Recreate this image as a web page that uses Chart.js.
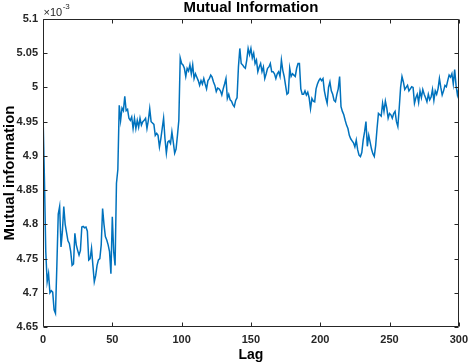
<!DOCTYPE html>
<html>
<head>
<meta charset="utf-8">
<script src="https://cdn.jsdelivr.net/npm/chart.js@4/dist/chart.umd.min.js"></script>
<style>
html,body{margin:0;padding:0;background:#fff;}
#wrap{width:474px;height:364px;position:relative;}
</style>
</head>
<body>
<div id="wrap"><canvas id="c" width="474" height="364"></canvas></div>
<script>
// Mutual information (x 1e-3) for lags 0..300 (index = lag)
const miValues = [
4.962,4.870,4.760,4.716,4.728,4.700,4.703,4.701,4.675,4.670,
4.740,4.815,4.826,4.767,4.790,4.826,4.800,4.788,4.776,4.772,
4.760,4.740,4.742,4.787,4.770,4.762,4.755,4.762,4.796,4.797,
4.795,4.796,4.790,4.748,4.750,4.765,4.740,4.716,4.725,4.740,
4.748,4.750,4.770,4.823,4.800,4.782,4.777,4.770,4.760,4.728,
4.811,4.760,4.740,4.860,4.880,4.974,4.952,4.970,4.966,4.987,
4.966,4.968,4.955,4.952,4.957,4.940,4.955,4.940,4.952,4.942,
4.955,4.945,4.950,4.952,4.955,4.940,4.952,4.969,4.950,4.948,
4.946,4.930,4.933,4.930,4.913,4.925,4.940,4.955,4.925,4.904,
4.920,4.922,4.918,4.935,4.920,4.904,4.910,4.930,4.952,5.043,
5.035,5.033,5.028,5.016,5.028,5.024,5.033,5.020,5.033,5.013,
5.020,5.015,5.010,5.003,5.010,5.005,5.013,5.005,4.998,5.010,
5.013,5.018,5.015,5.008,5.003,4.994,4.999,4.998,4.995,4.989,
4.998,5.005,5.013,4.984,4.990,4.982,4.980,4.975,4.972,4.981,
4.985,5.030,5.057,5.035,5.033,5.030,5.028,5.040,5.057,5.048,
5.057,5.043,5.050,5.035,5.040,5.023,5.030,5.035,5.023,5.030,
5.013,5.020,5.028,5.030,5.035,5.023,5.023,5.020,5.013,5.020,
5.023,5.016,5.040,5.025,5.016,5.003,4.990,4.992,5.028,5.016,
5.020,5.018,5.016,5.028,5.035,5.035,4.998,4.990,4.990,4.995,
4.989,4.993,4.985,4.969,4.984,4.980,4.979,4.998,5.005,5.010,
5.013,5.010,5.013,4.995,4.985,4.977,5.000,5.008,4.995,4.990,
4.981,4.979,4.990,4.998,5.016,4.972,4.965,4.960,4.952,4.945,
4.940,4.930,4.925,4.922,4.919,4.913,4.923,4.909,4.901,4.899,
4.905,4.923,4.935,4.950,4.914,4.930,4.920,4.910,4.903,4.899,
4.915,4.940,4.962,4.960,4.958,4.977,4.965,4.980,4.970,4.955,
4.962,4.960,4.955,4.962,4.965,4.950,4.943,4.970,5.000,5.016,
5.008,4.997,5.000,5.003,4.995,4.998,5.001,5.000,4.977,4.985,
4.990,4.978,4.995,4.985,4.997,4.990,4.985,4.979,4.990,4.982,
4.986,4.997,4.981,4.995,4.990,4.998,5.013,5.000,4.989,4.995,
5.003,5.001,5.010,5.018,5.015,5.020,5.005,5.026,5.003,4.989,
4.998
];
const xTicks = [0, 50, 100, 150, 200, 250, 300];
const yTicks = [4.65, 4.7, 4.75, 4.8, 4.85, 4.9, 4.95, 5, 5.05, 5.1];
const titleText = 'Mutual Information';
const xLabel = 'Lag';
const yLabel = 'Mutual information';
const expText = '\u00D710';
const expPower = '-3';

const points = miValues.map((v, i) => ({x: i, y: v}));
const FONT = "'Liberation Sans', Arial, sans-serif";

const framePlugin = {
  id: 'frame',
  afterDraw(chart) {
    const ctx = chart.ctx;
    const {left, right, top, bottom} = chart.chartArea;
    const xs = chart.scales.x, ys = chart.scales.y;
    ctx.save();
    ctx.strokeStyle = '#262626';
    ctx.lineWidth = 1;
    const L = Math.round(left) + 0.5, R = Math.round(right) - 0.5;
    const T = Math.round(top) + 0.5, B = Math.round(bottom) - 0.5;
    ctx.beginPath();
    ctx.rect(L, T, R - L, B - T);
    ctx.stroke();
    ctx.beginPath();
    xTicks.forEach(v => {
      const px = Math.round(xs.getPixelForValue(v)) + 0.5;
      ctx.moveTo(px, B); ctx.lineTo(px, B - 4);
      ctx.moveTo(px, T); ctx.lineTo(px, T + 4);
    });
    yTicks.forEach(v => {
      const py = Math.round(ys.getPixelForValue(v)) + 0.5;
      ctx.moveTo(L, py); ctx.lineTo(L + 4, py);
      ctx.moveTo(R, py); ctx.lineTo(R - 4, py);
    });
    ctx.stroke();
    // title
    ctx.fillStyle = '#000';
    ctx.font = 'bold 15px ' + FONT;
    ctx.textAlign = 'center';
    ctx.textBaseline = 'alphabetic';
    ctx.fillText(titleText, (left + right) / 2, 12);
    // exponent
    ctx.font = '11px ' + FONT;
    ctx.textAlign = 'left';
    ctx.fillStyle = '#262626';
    ctx.fillText(expText, left + 0.5, 16);
    const w = ctx.measureText(expText).width;
    ctx.font = '8px ' + FONT;
    ctx.fillText(expPower, left + 1 + w, 9);
    ctx.restore();
  }
};

new Chart(document.getElementById('c'), {
  type: 'line',
  data: {
    datasets: [{
      data: points,
      borderColor: '#0072BD',
      borderWidth: 1.5,
      pointRadius: 0,
      tension: 0,
      fill: false
    }]
  },
  options: {
    responsive: false,
    animation: false,
    devicePixelRatio: 1,
    layout: {padding: {top: 19, right: 9, left: 0, bottom: 0}},
    plugins: {legend: {display: false}, tooltip: {enabled: false}, title: {display: false}},
    scales: {
      x: {
        type: 'linear', min: 0, max: 300,
        afterBuildTicks: s => { s.ticks = xTicks.map(v => ({value: v})); },
        afterFit: s => { s.height = 37; },
        grid: {display: false, drawTicks: false},
        border: {display: false},
        ticks: {color: '#262626', font: {family: FONT, size: 11, weight: 'bold'}, padding: 6, maxRotation: 0},
        title: {display: true, text: xLabel, color: '#000', font: {family: FONT, size: 14, weight: 'bold'}, padding: {top: 0, bottom: 0}}
      },
      y: {
        type: 'linear', min: 4.65, max: 5.1,
        afterBuildTicks: s => { s.ticks = yTicks.map(v => ({value: v})); },
        afterFit: s => { s.width = 43; },
        grid: {display: false, drawTicks: false},
        border: {display: false},
        ticks: {color: '#262626', font: {family: FONT, size: 11, weight: 'bold'}, padding: 5,
          callback: v => String(Number(v.toFixed(2)))},
        title: {display: true, text: yLabel, color: '#000', font: {family: FONT, size: 15, weight: 'bold'}, padding: {top: 1, bottom: 0}}
      }
    }
  },
  plugins: [framePlugin]
});
</script>
</body>
</html>
